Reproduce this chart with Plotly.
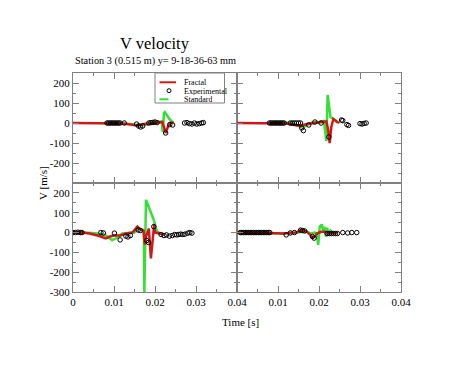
import plotly.graph_objects as go
from plotly.subplots import make_subplots

# ---------------- data ----------------
# Panel 1 (top-left)
frac1_t = [0, 0.008, 0.010, 0.012, 0.014, 0.0155, 0.017, 0.019, 0.021, 0.0218, 0.0222, 0.0226, 0.0232, 0.0238, 0.0245]
frac1_v = [0, 0, -2, -3, -8, -12, -6, 0, 2, 5, -20, -50, -15, 2, 0]
std1_t = [0.0075, 0.010, 0.012, 0.014, 0.0155, 0.0165, 0.017, 0.018, 0.019, 0.020, 0.021, 0.0216, 0.0219, 0.0222, 0.0224, 0.0235, 0.0245]
std1_v = [0, 0, -2, -5, -8, -12, -5, -8, 0, 3, 5, 8, -45, 50, 55, 20, 0]
exp1_t = [0.0083, 0.0087, 0.0091, 0.0095, 0.0099, 0.0103, 0.0107, 0.0111, 0.0115, 0.0125,
          0.0155, 0.0160, 0.0165, 0.0170, 0.0185, 0.0190, 0.0195, 0.0200, 0.0205,
          0.0226, 0.0236, 0.0243,
          0.0272, 0.0278, 0.0284, 0.0290, 0.0296, 0.0302, 0.0308, 0.0314, 0.0318]
exp1_v = [0, 0, 0, 0, 0, 0, 0, 0, 0, 0,
          -5, -15, -20, -15, 0, 2, 3, 5, 2,
          -50, -8, -10,
          0, 2, -3, -5, 0, -5, -3, 0, 2]

# Panel 2 (top-right)
frac2_t = [0, 0.008, 0.010, 0.012, 0.014, 0.0155, 0.017, 0.019, 0.021, 0.0218, 0.0222, 0.0226, 0.0230, 0.0235, 0.0245, 0.0250]
frac2_v = [0, 0, 0, -2, -10, -15, -5, 0, 3, 8, -30, -100, -20, 20, 5, 0]
std2_t = [0.0077, 0.010, 0.012, 0.014, 0.0155, 0.0165, 0.018, 0.019, 0.020, 0.0212, 0.0218, 0.0221, 0.0228, 0.0236, 0.0245]
std2_v = [0, 0, 2, -5, -20, -18, 0, 5, 5, 10, -90, 140, 30, 20, 0]
exp2_t = [0.0079, 0.0083, 0.0087, 0.0091, 0.0095, 0.0099, 0.0103, 0.0107, 0.0111, 0.0115,
          0.0130, 0.0135, 0.0140, 0.0145, 0.0150, 0.0155, 0.0158, 0.0162, 0.0175, 0.0190,
          0.0205, 0.0224, 0.0255, 0.0258, 0.0268, 0.0272, 0.0300, 0.0305, 0.0310, 0.0315]
exp2_v = [0, 0, 0, 0, 0, 0, 0, 0, 0, 0,
          0, 0, 0, 0, 0, 0, -25, -38, -10, 5,
          0, -70, 15, 12, -8, -12, -3, -5, -2, 0]

# Panel 3 (bottom-left)
frac3_t = [0, 0.002, 0.004, 0.006, 0.008, 0.009, 0.010, 0.0115, 0.013, 0.0145, 0.0157, 0.0165, 0.0172,
           0.0175, 0.0178, 0.0185, 0.0190, 0.0195, 0.0198, 0.0200, 0.0210, 0.0220]
frac3_v = [0, 0, -5, -15, -30, -20, -15, -15, -5, 0, 30, 15, 10,
           -60, -20, 20, -130, -20, 40, 0, -5, -10]
std3_t = [0, 0.003, 0.006, 0.008, 0.0095, 0.011, 0.012, 0.0135, 0.015, 0.016, 0.017, 0.0173,
          0.0174, 0.0178, 0.0190, 0.0196, 0.0205, 0.0210, 0.0220]
std3_v = [0, 0, -5, -15, -38, -25, -5, -3, 0, 20, 15, 0,
          -310, 165, 97, 70, 5, 0, -10]
exp3_t = [0, 0.0006, 0.0012, 0.0018, 0.0022, 0.0068, 0.0074, 0.0101, 0.0115, 0.0129, 0.0134,
          0.0140, 0.0159, 0.0164, 0.0180, 0.0184, 0.0197, 0.0215, 0.0222, 0.0228, 0.0235,
          0.0242, 0.0248, 0.0253, 0.0258, 0.0263, 0.0268, 0.0273, 0.0280, 0.0285, 0.0290]
exp3_v = [0, 0, 2, 0, 0, 0, -2, -3, -37, -18, -22,
          -15, 13, 10, -40, -50, 30, -10, -15, -12, -18,
          -15, -10, -12, -10, -8, -10, -8, -3, 0, -3]

# Panel 4 (bottom-right)
frac4_t = [0, 0.004, 0.008, 0.011, 0.013, 0.0145, 0.0155, 0.016, 0.017, 0.0178, 0.0185, 0.019,
           0.0195, 0.020, 0.021, 0.022, 0.0235, 0.0245]
frac4_v = [0, 0, -2, -5, -3, 0, 12, 10, 5, -10, -25, -20, -5, 0, 5, 0, -3, 0]
std4_t = [0, 0.004, 0.008, 0.011, 0.013, 0.015, 0.016, 0.017, 0.018, 0.019, 0.0195, 0.0198,
          0.0202, 0.0207, 0.0210, 0.0213, 0.0217, 0.0220, 0.0223, 0.0228, 0.0235, 0.0245]
std4_v = [0, 0, -3, -5, -3, 0, 5, 5, -5, 0, -5, -62, 30, 40, 10, 30, -20, 25, -15, 10, 0, 0]
exp4_t = [0.0008, 0.0012, 0.0016, 0.0020, 0.0024, 0.0028, 0.0032, 0.0036, 0.0040, 0.0044,
          0.0048, 0.0052, 0.0056, 0.0060, 0.0064, 0.0068, 0.0072, 0.0076, 0.0080,
          0.0120, 0.0130, 0.0140, 0.0155, 0.0160, 0.0165, 0.0184, 0.0188,
          0.0220, 0.0225, 0.0230, 0.0235, 0.0240, 0.0245, 0.0258, 0.0270, 0.0280, 0.0292]
exp4_v = [0, 0, 0, 0, 0, 0, 0, 0, 0, 0,
          0, 0, 0, 0, 0, 0, 0, 0, 0,
          -12, -2, 0, 12, 10, 8, -20, -28,
          -5, -5, -5, -5, -5, -5, 0, -2, 0, 0]

x_tick_vals = [0, 0.01, 0.02, 0.03, 0.04]
x_tick_text = ["0", "0.01", "0.02", "0.03", "0.04"]
y_tick_vals = [-300, -200, -100, 0, 100, 200]

legend_names = ["Fractal", "Experimental", "Standard"]
title_text = "V velocity"
subtitle_text = "Station 3 (0.515 m) y= 9-18-36-63 mm"
x_title = "Time [s]"
y_title = "V [m/s]"

# ---------------- styling ----------------
RED = "#d01818"
GREEN = "#33e033"
FRAME = "#808080"
FONT = "Liberation Serif"
W, H = 474, 366


def px(xp):
    return xp / W


def py(yp):
    return 1 - yp / H


panels = [
    (1, 1, frac1_t, frac1_v, std1_t, std1_v, exp1_t, exp1_v),
    (1, 2, frac2_t, frac2_v, std2_t, std2_v, exp2_t, exp2_v),
    (2, 1, frac3_t, frac3_v, std3_t, std3_v, exp3_t, exp3_v),
    (2, 2, frac4_t, frac4_v, std4_t, std4_v, exp4_t, exp4_v),
]

fig = make_subplots(rows=2, cols=2, horizontal_spacing=0, vertical_spacing=0)

for r, c, ft, fv, st, sv, et, ev in panels:
    fig.add_trace(go.Scatter(x=st, y=sv, mode="lines", line=dict(color=GREEN, width=2.5),
                             showlegend=False, hoverinfo="skip"), row=r, col=c)
    fig.add_trace(go.Scatter(x=ft, y=fv, mode="lines", line=dict(color=RED, width=2.5),
                             showlegend=False, hoverinfo="skip"), row=r, col=c)
    fig.add_trace(go.Scatter(x=et, y=ev, mode="markers",
                             marker=dict(symbol="circle-open", size=4.5, color="black",
                                         line=dict(width=1, color="black")),
                             showlegend=False, hoverinfo="skip"), row=r, col=c)

# domains
x_left = (px(73), px(237))
x_right = (px(237), px(401))
y_top = (py(183), py(73))
y_bot = (py(292), py(183))

axis_common = dict(showline=True, linecolor=FRAME, linewidth=1, mirror="allticks",
                   ticks="inside", ticklen=6, tickcolor=FRAME, tickwidth=1,
                   showgrid=False, zeroline=False, automargin=False,
                   tickfont=dict(family=FONT, size=11, color="black"))

for r, c in [(1, 1), (1, 2), (2, 1), (2, 2)]:
    xd = x_left if c == 1 else x_right
    yd = y_top if r == 1 else y_bot
    if r == 2 and c == 1:
        xv, xt = x_tick_vals, x_tick_text
    elif r == 2 and c == 2:
        xv, xt = x_tick_vals[1:], x_tick_text[1:]
    else:
        xv, xt = x_tick_vals, [""] * len(x_tick_vals)
    fig.update_xaxes(domain=xd, range=[0, 0.04], tickvals=xv, ticktext=xt,
                     minor=dict(ticks="inside", ticklen=3, tickcolor=FRAME, dtick=0.005, tick0=0,
                                showgrid=False),
                     **axis_common, row=r, col=c)
    if c == 1:
        yv = y_tick_vals if r == 2 else y_tick_vals[1:]
        yt = [str(v) for v in yv]
    else:
        yv = y_tick_vals
        yt = [""] * len(yv)
    fig.update_yaxes(domain=yd, range=[-300, 250], tickvals=yv, ticktext=yt,
                     minor=dict(ticks="inside", ticklen=3, tickcolor=FRAME, dtick=50, tick0=0,
                                showgrid=False),
                     **axis_common, row=r, col=c)

# compact legend box (drawn in paper space, like the original's small legend)
legend_y = [82.3, 90.7, 99.3]
shapes = [
    dict(type="rect", xref="paper", yref="paper", x0=px(155), x1=px(224.5), y0=py(103), y1=py(73),
         fillcolor="white", line=dict(color=FRAME, width=1), layer="above"),
    dict(type="line", xref="paper", yref="paper", x0=px(159.5), x1=px(176), y0=py(legend_y[0]),
         y1=py(legend_y[0]), line=dict(color=RED, width=2), layer="above"),
    dict(type="circle", xref="paper", yref="paper", x0=px(167), x1=px(171),
         y0=py(legend_y[1] + 2), y1=py(legend_y[1] - 2),
         line=dict(color="black", width=1), fillcolor="white", layer="above"),
    dict(type="line", xref="paper", yref="paper", x0=px(159.5), x1=px(176), y0=py(legend_y[2]),
         y1=py(legend_y[2]), line=dict(color=GREEN, width=2, dash="dash"), layer="above"),
]
annotations = [
    dict(text=n, x=px(183), y=py(yy), xref="paper", yref="paper", showarrow=False,
         font=dict(family=FONT, size=8, color="black"), xanchor="left", yanchor="middle",
         borderpad=0, height=8, valign="middle")
    for n, yy in zip(legend_names, legend_y)
]
annotations += [
    dict(text=title_text, x=px(155), y=py(43), xref="paper", yref="paper",
         showarrow=False, font=dict(family=FONT, size=16.5), xanchor="center", yanchor="middle"),
    dict(text=subtitle_text, x=px(155), y=py(60.5), xref="paper", yref="paper",
         showarrow=False, font=dict(family=FONT, size=10.3), xanchor="center", yanchor="middle"),
    dict(text=x_title, x=px(240), y=py(322), xref="paper", yref="paper",
         showarrow=False, font=dict(family=FONT, size=11), xanchor="center", yanchor="middle"),
    dict(text=y_title, x=px(43), y=py(183), xref="paper", yref="paper", textangle=-90,
         showarrow=False, font=dict(family=FONT, size=11), xanchor="center", yanchor="middle"),
]

fig.update_layout(
    width=W, height=H,
    margin=dict(l=0, r=0, t=0, b=0, autoexpand=False),
    paper_bgcolor="white", plot_bgcolor="white",
    font=dict(family=FONT, color="black"),
    showlegend=False,
    shapes=shapes,
    annotations=annotations,
)

fig.write_html("out.html", config={"displayModeBar": False},
               post_script="document.body.style.margin='0';document.body.style.overflow='hidden';")
